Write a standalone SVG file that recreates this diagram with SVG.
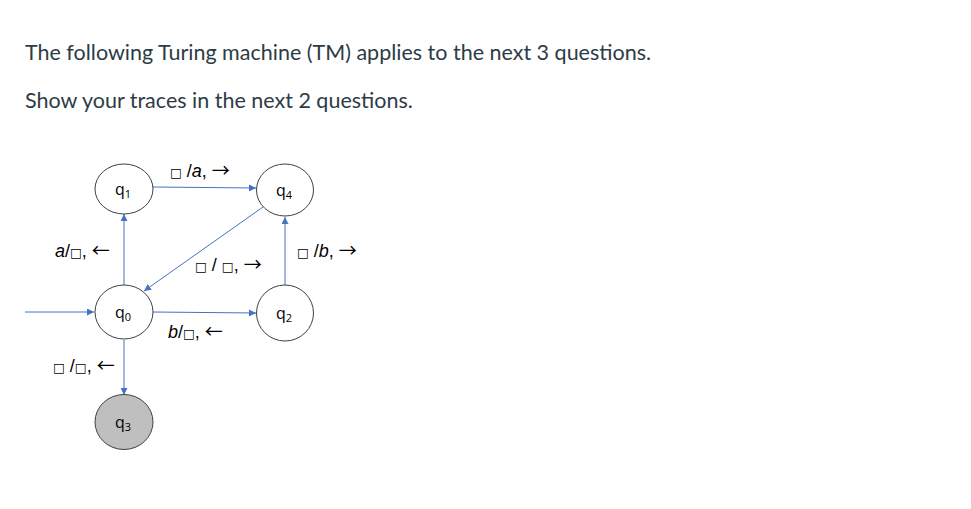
<svg xmlns="http://www.w3.org/2000/svg" width="971" height="509" viewBox="0 0 971 509">
<defs>
<style>
.title{font-family:Lato,"Liberation Sans",sans-serif;font-size:21.5px;fill:#2d3b45}
.node{fill:#ffffff;stroke:#404040;stroke-width:1}
.final{fill:#bfbfbf;stroke:#404040;stroke-width:1}
.nl{font-family:"Open Sans","Liberation Sans",sans-serif;font-size:16px;fill:#000;text-anchor:middle}
.sub{font-size:11px}
.edge{stroke:#4472c4;stroke-width:1;fill:none;marker-end:url(#ah)}
.lab{font-family:"Liberation Sans",sans-serif;font-size:18px;fill:#000}
.it{font-style:italic}
.sq{font-family:"DejaVu Sans",sans-serif;font-size:12.5px}
.ar{font-family:"Noto Sans CJK SC","DejaVu Sans",sans-serif;font-size:18px}
</style>
<marker id="ah" viewBox="0 0 10 10" refX="10" refY="5" markerWidth="7" markerHeight="7" markerUnits="userSpaceOnUse" orient="auto">
<path d="M0,0 L10,5 L0,10 z" fill="#4472c4"/>
</marker>
</defs>
<rect width="971" height="509" fill="#ffffff"/>
<text class="title" x="25" y="60">The following Turing machine (TM) applies to the next 3 questions.</text>
<text class="title" x="25" y="108">Show your traces in the next 2 questions.</text>

<g id="connectors">
<line class="edge" x1="153" y1="187" x2="256" y2="188"/>
<line class="edge" x1="124" y1="285" x2="124" y2="214"/>
<line class="edge" x1="285" y1="286" x2="285" y2="217"/>
<line class="edge" x1="263" y1="207" x2="144" y2="291"/>
<line class="edge" x1="25" y1="312" x2="94" y2="312"/>
<line class="edge" x1="153" y1="312" x2="256" y2="313"/>
<line class="edge" x1="124" y1="340" x2="124" y2="395"/>
</g>

<g id="q1"><ellipse class="node" cx="124" cy="189" rx="29" ry="25"/><text class="nl" x="123" y="195">q<tspan class="sub" dy="3">1</tspan></text></g>
<g id="q4"><ellipse class="node" cx="285" cy="190" rx="28.5" ry="26"/><text class="nl" x="284" y="196">q<tspan class="sub" dy="3">4</tspan></text></g>
<g id="q0"><ellipse class="node" cx="124" cy="312" rx="29" ry="27"/><text class="nl" x="123" y="318">q<tspan class="sub" dy="3">0</tspan></text></g>
<g id="q2"><ellipse class="node" cx="285" cy="313" rx="28.5" ry="28"/><text class="nl" x="284" y="319">q<tspan class="sub" dy="3">2</tspan></text></g>
<g id="q3"><ellipse class="final" cx="124" cy="422" rx="29" ry="27.5"/><text class="nl" x="123" y="428">q<tspan class="sub" dy="3">3</tspan></text></g>

<g id="labels">
<text class="lab" x="170" y="177"><tspan class="sq">□</tspan> /<tspan class="it">a</tspan>, <tspan class="ar">→</tspan></text>
<text class="lab" x="55" y="257"><tspan class="it">a</tspan>/<tspan class="sq">□</tspan>, <tspan class="ar">←</tspan></text>
<text class="lab" x="297" y="257"><tspan class="sq">□</tspan> /<tspan class="it">b</tspan>, <tspan class="ar">→</tspan></text>
<text class="lab" x="195" y="271"><tspan class="sq">□</tspan> / <tspan class="sq">□</tspan>, <tspan class="ar">→</tspan></text>
<text class="lab" x="168" y="338"><tspan class="it">b</tspan>/<tspan class="sq">□</tspan>, <tspan class="ar">←</tspan></text>
<text class="lab" x="53" y="372"><tspan class="sq">□</tspan> /<tspan class="sq">□</tspan>, <tspan class="ar">←</tspan></text>
</g>
</svg>
